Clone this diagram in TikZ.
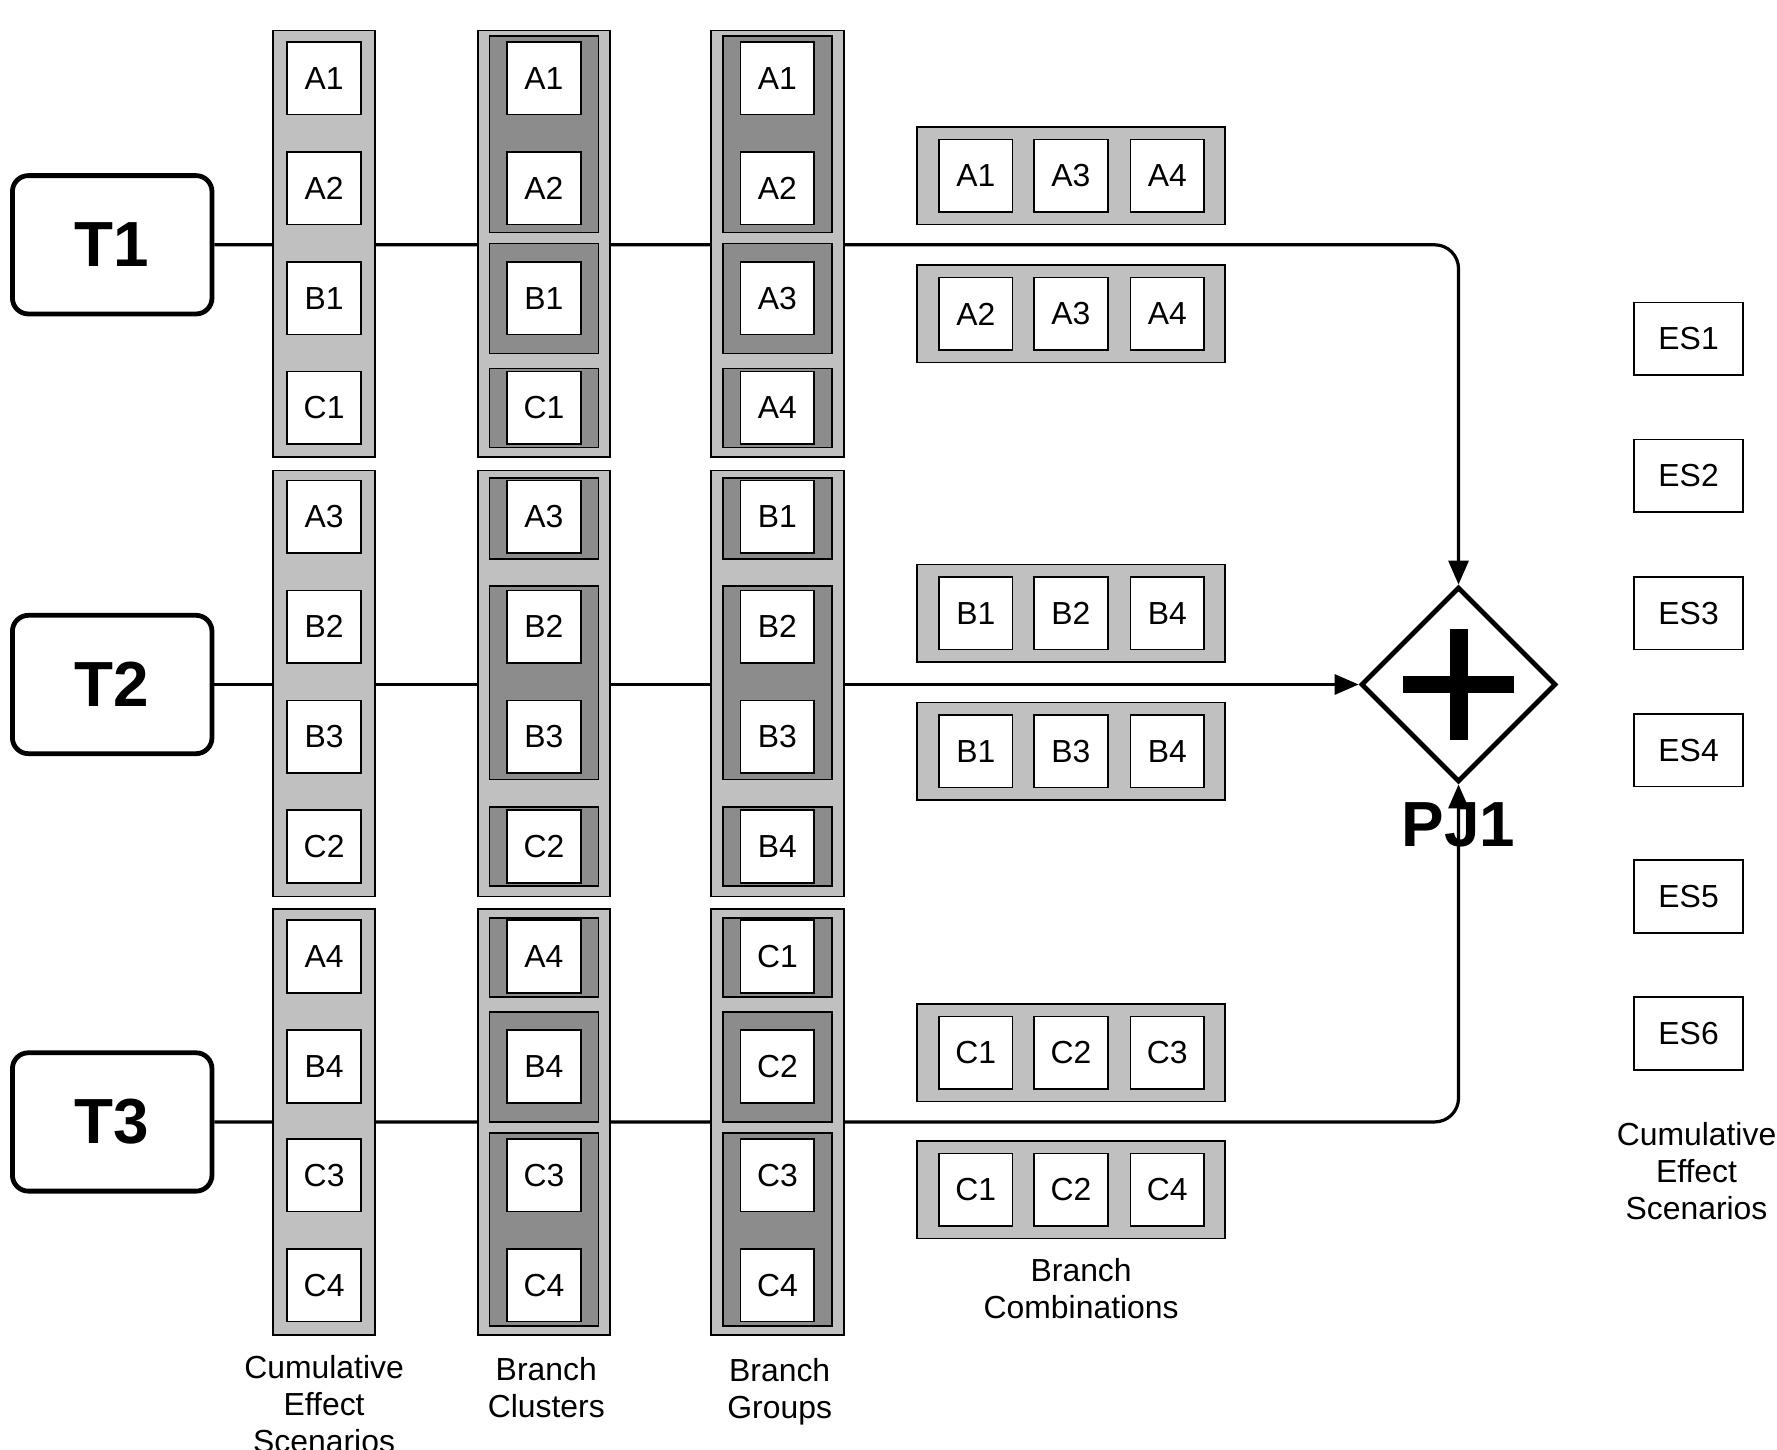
\documentclass[tikz,border=0pt]{standalone}
\usepackage{fontspec}
\setmainfont{Liberation Sans}
\usetikzlibrary{positioning,backgrounds,shapes.geometric,arrows.meta}
\definecolor{lightpanel}{HTML}{C0C0C0}
\definecolor{darkpanel}{HTML}{8C8C8C}
\tikzset{
  item/.style={draw,fill=white,minimum width=0.65cm,minimum height=0.64cm,inner sep=0pt,font=\fontsize{8}{9}\selectfont},
  panel/.style={draw,fill=lightpanel},
  cluster/.style={draw,fill=darkpanel},
  task/.style={draw,very thick,rounded corners=4pt,minimum width=1.76cm,minimum height=1.22cm,font=\fontsize{16}{19}\selectfont\bfseries},
  caption/.style={align=center,font=\fontsize{8}{9.3}\selectfont}
}
\begin{document}
\begin{tikzpicture}[x=0.01cm,y=-0.01cm,>={Triangle[length=6pt,width=5pt]}]
  \useasboundingbox (0,0) rectangle (1568,1279);
  % tasks
  \node[task] (T1) at (99,216) {T1};
  \node[task] (T2) at (99,604) {T2};
  \node[task] (T3) at (99,990) {T3};
  % column panels
  \foreach \x/\w in {286/90,480/116,686/117}
    \foreach \y in {215,603,990}
      \draw[panel] (\x-\w/2,\y-188) rectangle (\x+\w/2,\y+188);
  % branch clusters and groups
  \foreach \x in {480,686}
    \foreach \a/\b in {32/205,215/312,325/395,422/493,517/688,712/782,810/880,893/990,1000/1170}
      \draw[cluster] (\x-48,\a) rectangle (\x+48,\b);
  % cumulative effect scenarios
  \foreach \y/\t [count=\i] in {69/A1,166/A2,263/B1,360/C1,456/A3,553/B2,650/B3,747/C2,844/A4,941/B4,1037/C3,1134/C4}
    \node[item] (ces\i) at (286,\y) {\t};
  % branch clusters
  \foreach \y/\t [count=\i] in {69/A1,166/A2,263/B1,360/C1,456/A3,553/B2,650/B3,747/C2,844/A4,941/B4,1037/C3,1134/C4}
    \node[item] (bc\i) at (480,\y) {\t};
  % branch groups
  \foreach \y/\t [count=\i] in {69/A1,166/A2,263/A3,360/A4,456/B1,553/B2,650/B3,747/B4,844/C1,941/C2,1037/C3,1134/C4}
    \node[item] (bg\i) at (686,\y) {\t};
  % branch combinations
  \foreach \y/\p/\q/\r [count=\i] in {155/A1/A3/A4,277/A2/A3/A4,541/B1/B2/B4,663/B1/B3/B4,929/C1/C2/C3,1050/C1/C2/C4}{
    \draw[panel] (809,\y-43) rectangle (1081,\y+43);
    \node[item] (cmb\i a) at (861,\y) {\p};
    \node[item] (cmb\i b) at (945,\y) {\q};
    \node[item] (cmb\i c) at (1030,\y) {\r};
  }
  % parallel join
  \node[diamond,draw,very thick,minimum width=1.72cm,minimum height=1.72cm,inner sep=0pt] (PJ1) at (1287,604) {};
  \draw[line width=4.5pt] (1238,604) -- (1336,604) (1287,555) -- (1287,653);
  \node[font=\fontsize{16}{19}\selectfont\bfseries] (pjlabel) at (1287,728) {PJ1};
  % effect scenarios
  \foreach \y [count=\i] in {299,420,541,662,791,912}
    \node[item,minimum width=0.96cm] (ES\i) at (1490,\y) {ES\i};
  % captions
  \node[caption] (capces) at (286,1239) {Cumulative\\Effect\\Scenarios};
  \node[caption] (capbc) at (482,1224) {Branch\\Clusters};
  \node[caption] (capbg) at (688,1228) {Branch\\Groups};
  \node[caption] (capcmb) at (954,1137) {Branch\\Combinations};
  \node[caption] (capes) at (1497,1033) {Cumulative\\Effect\\Scenarios};
  % flows
  \begin{scope}[on background layer]
    \draw[thick,->,rounded corners=6pt] (T1.east) -| (PJ1.north);
    \draw[thick,->] (T2.east) -- (PJ1.west);
    \draw[thick,->,rounded corners=6pt] (T3.east) -| (PJ1.south);
  \end{scope}
\end{tikzpicture}
\end{document}
